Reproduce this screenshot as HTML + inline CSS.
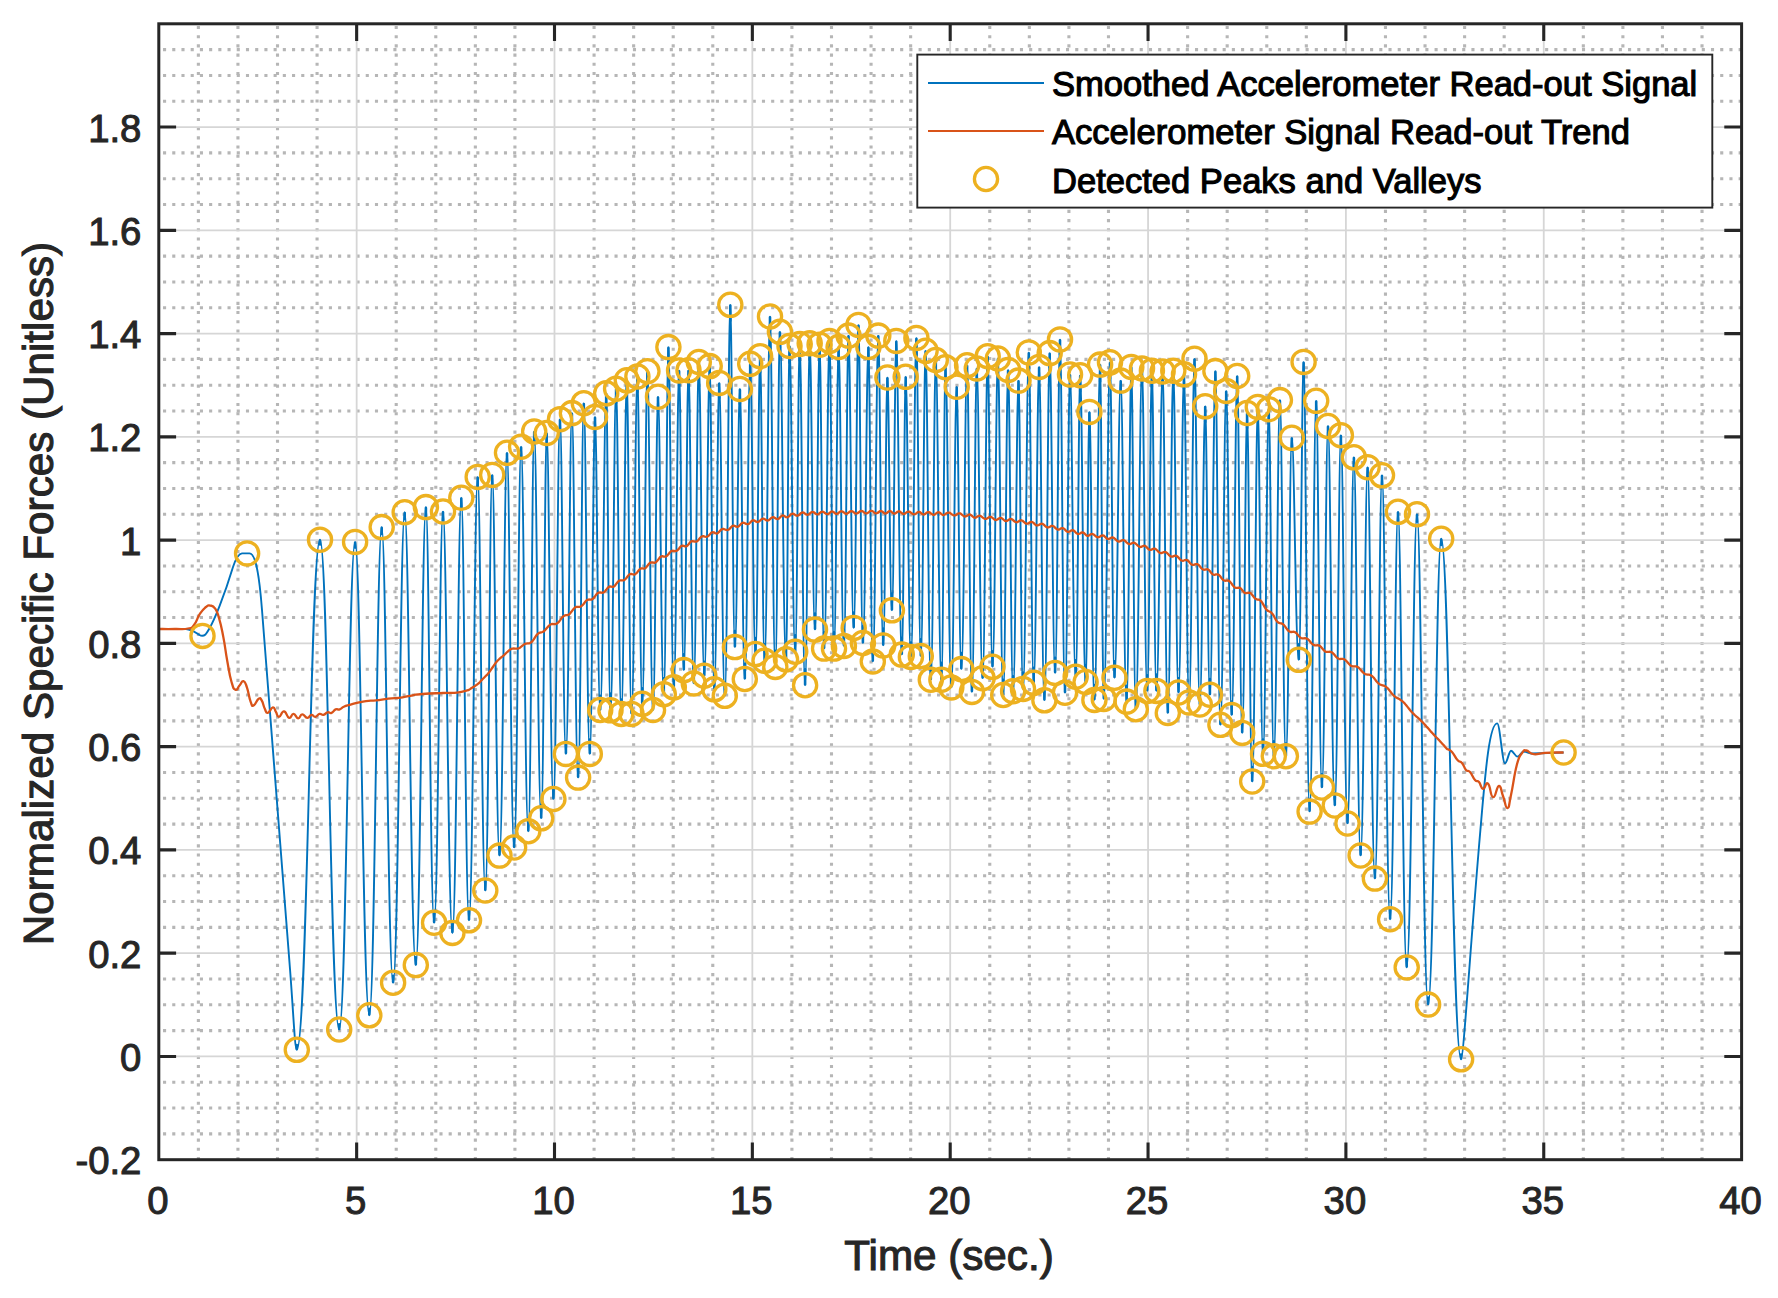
<!DOCTYPE html>
<html><head><meta charset="utf-8"><title>Accelerometer plot</title>
<style>html,body{margin:0;padding:0;background:#fff}svg{display:block}</style></head>
<body>
<svg width="1778" height="1298" viewBox="0 0 1778 1298">
<rect width="1778" height="1298" fill="#fff"/>
<path d="M198.37 25.95V1159.70M237.94 25.95V1159.70M277.51 25.95V1159.70M317.08 25.95V1159.70M396.22 25.95V1159.70M435.79 25.95V1159.70M475.36 25.95V1159.70M514.93 25.95V1159.70M594.07 25.95V1159.70M633.64 25.95V1159.70M673.21 25.95V1159.70M712.78 25.95V1159.70M791.92 25.95V1159.70M831.49 25.95V1159.70M871.06 25.95V1159.70M910.63 25.95V1159.70M989.77 25.95V1159.70M1029.34 25.95V1159.70M1068.91 25.95V1159.70M1108.48 25.95V1159.70M1187.62 25.95V1159.70M1227.19 25.95V1159.70M1266.76 25.95V1159.70M1306.33 25.95V1159.70M1385.47 25.95V1159.70M1425.04 25.95V1159.70M1464.61 25.95V1159.70M1504.18 25.95V1159.70M1583.32 25.95V1159.70M1622.89 25.95V1159.70M1662.46 25.95V1159.70M1702.03 25.95V1159.70" stroke="#b6b6b6" stroke-width="3.1" stroke-dasharray="3.1 6.095" fill="none"/>
<path d="M163.02 1133.88H1741.60M163.02 1108.07H1741.60M163.02 1082.25H1741.60M163.02 1030.62H1741.60M163.02 1004.80H1741.60M163.02 978.99H1741.60M163.02 927.36H1741.60M163.02 901.54H1741.60M163.02 875.73H1741.60M163.02 824.09H1741.60M163.02 798.28H1741.60M163.02 772.46H1741.60M163.02 720.83H1741.60M163.02 695.01H1741.60M163.02 669.20H1741.60M163.02 617.57H1741.60M163.02 591.75H1741.60M163.02 565.93H1741.60M163.02 514.30H1741.60M163.02 488.49H1741.60M163.02 462.67H1741.60M163.02 411.04H1741.60M163.02 385.22H1741.60M163.02 359.41H1741.60M163.02 307.77H1741.60M163.02 281.96H1741.60M163.02 256.14H1741.60M163.02 204.51H1741.60M163.02 178.70H1741.60M163.02 152.88H1741.60M163.02 101.25H1741.60M163.02 75.43H1741.60M163.02 49.62H1741.60" stroke="#b6b6b6" stroke-width="3.1" stroke-dasharray="3.1 6.114" fill="none"/>
<path d="M356.65 23.80V1159.70M554.50 23.80V1159.70M752.35 23.80V1159.70M950.20 23.80V1159.70M1148.05 23.80V1159.70M1345.90 23.80V1159.70M1543.75 23.80V1159.70M158.80 1056.44H1741.60M158.80 953.17H1741.60M158.80 849.91H1741.60M158.80 746.65H1741.60M158.80 643.38H1741.60M158.80 540.12H1741.60M158.80 436.85H1741.60M158.80 333.59H1741.60M158.80 230.33H1741.60M158.80 127.06H1741.60" stroke="#d6d6d6" stroke-width="1.8" fill="none"/>
<path d="M158.8 629 L186 629 C192 629.5 196 633 199.5 635 C201.5 636.2 203.5 636.2 205.5 634.5 C214 624 226 590 233 567 C236 558 239 553.6 242 553.4 L249.5 553.4 C256 553.4 259.5 578 262 610 L290 969 C293.5 1014 294.8 1049.8 296.8 1049.8 C307.47 1049.80 310.26 539.70 320.00 539.70 C328.06 539.70 330.37 1029.50 339.20 1029.50 C346.51 1029.50 348.59 541.90 355.10 541.90 C360.79 541.90 362.77 1015.30 369.30 1015.30 C375.00 1015.30 376.84 527.10 381.70 527.10 C386.11 527.10 387.86 982.70 393.10 982.70 C398.44 982.70 400.20 512.20 404.70 512.20 C408.98 512.20 410.69 965.10 415.80 965.10 C420.45 965.10 422.06 507.10 425.90 507.10 C428.94 507.10 430.36 922.70 434.10 922.70 C438.17 922.70 439.67 511.50 443.00 511.50 C446.54 511.50 448.09 932.90 452.40 932.90 C456.47 932.90 457.97 497.80 461.30 497.80 C464.14 497.80 465.49 920.30 469.00 920.30 C472.98 920.30 474.45 476.90 477.70 476.90 C480.50 476.90 481.84 890.50 485.30 890.50 C488.43 890.50 489.68 474.90 492.20 474.90 C494.88 474.90 496.18 855.60 499.50 855.60 C502.91 855.60 504.24 452.80 507.00 452.80 C509.60 452.80 510.88 847.50 514.10 847.50 C517.28 847.50 518.55 446.70 521.10 446.70 C523.74 446.70 525.03 831.20 528.30 831.20 C530.97 831.20 532.08 431.40 534.20 431.40 C536.75 431.40 538.02 818.30 541.20 818.30 C543.68 818.30 544.73 433.00 546.70 433.00 C549.14 433.00 550.36 799.00 553.40 799.00 C556.39 799.00 557.60 419.20 560.00 419.20 C562.12 419.20 563.23 753.90 565.90 753.90 C568.61 753.90 569.74 413.10 571.90 413.10 C574.14 413.10 575.30 777.60 578.10 777.60 C580.67 777.60 581.76 403.20 583.80 403.20 C585.96 403.20 587.09 753.90 589.80 753.90 C592.14 753.90 593.15 416.90 595.00 416.90 C596.85 416.90 597.86 710.00 600.20 710.00 C602.91 710.00 604.04 393.30 606.20 393.30 C607.71 393.30 608.57 710.30 610.50 710.30 C613.03 710.30 614.10 388.70 616.10 388.70 C617.95 388.70 618.96 713.90 621.30 713.90 C623.78 713.90 624.83 380.30 626.80 380.30 C628.46 380.30 629.39 713.90 631.50 713.90 C634.17 713.90 635.28 376.50 637.40 376.50 C639.10 376.50 640.04 703.80 642.20 703.80 C644.54 703.80 645.55 371.20 647.40 371.20 C649.40 371.20 650.47 710.00 653.00 710.00 C655.25 710.00 656.23 396.70 658.00 396.70 C660.08 396.70 661.18 694.20 663.80 694.20 C665.87 694.20 666.78 347.10 668.40 347.10 C670.33 347.10 671.37 687.30 673.80 687.30 C676.19 687.30 677.21 370.40 679.10 370.40 C680.76 370.40 681.69 670.10 683.80 670.10 C685.91 670.10 686.84 370.20 688.50 370.20 C690.39 370.20 691.41 683.40 693.80 683.40 C696.05 683.40 697.02 362.00 698.80 362.00 C700.77 362.00 701.82 675.70 704.30 675.70 C706.73 675.70 707.77 366.10 709.70 366.10 C711.32 366.10 712.23 689.30 714.30 689.30 C716.50 689.30 717.46 382.90 719.20 382.90 C721.20 382.90 722.27 695.80 724.80 695.80 C727.28 695.80 728.33 304.80 730.30 304.80 C731.92 304.80 732.83 647.10 734.90 647.10 C737.15 647.10 738.12 389.00 739.90 389.00 C741.64 389.00 742.60 679.00 744.80 679.00 C747.23 679.00 748.27 363.80 750.20 363.80 C752.09 363.80 753.11 654.00 755.50 654.00 C757.57 654.00 758.48 356.20 760.10 356.20 C761.69 356.20 762.58 660.80 764.60 660.80 C767.03 660.80 768.07 316.50 770.00 316.50 C771.89 316.50 772.91 666.90 775.30 666.90 C777.37 666.90 778.28 331.80 779.90 331.80 C782.10 331.80 783.24 659.30 786.00 659.30 C787.56 659.30 788.28 346.00 789.50 346.00 C791.54 346.00 792.63 651.70 795.20 651.70 C797.22 651.70 798.11 344.00 799.70 344.00 C801.63 344.00 802.67 685.20 805.10 685.20 C807.17 685.20 808.08 343.20 809.70 343.20 C811.59 343.20 812.61 629.60 815.00 629.60 C817.07 629.60 817.98 344.70 819.60 344.70 C821.19 344.70 822.08 648.60 824.10 648.60 C826.53 648.60 827.57 340.90 829.50 340.90 C831.09 340.90 831.98 648.60 834.00 648.60 C836.07 648.60 836.98 347.00 838.60 347.00 C840.49 347.00 841.51 645.90 843.90 645.90 C845.97 645.90 846.88 335.60 848.50 335.60 C850.35 335.60 851.36 627.90 853.70 627.90 C855.86 627.90 856.80 324.90 858.50 324.90 C860.05 324.90 860.93 643.00 862.90 643.00 C865.38 643.00 866.43 347.00 868.40 347.00 C869.95 347.00 870.83 661.40 872.80 661.40 C875.28 661.40 876.33 335.60 878.30 335.60 C880.04 335.60 881.00 645.40 883.20 645.40 C885.08 645.40 885.93 377.50 887.40 377.50 C888.99 377.50 889.88 610.30 891.90 610.30 C893.87 610.30 894.75 340.90 896.30 340.90 C898.27 340.90 899.32 654.60 901.80 654.60 C903.55 654.60 904.34 376.80 905.70 376.80 C907.55 376.80 908.56 656.90 910.90 656.90 C913.38 656.90 914.43 337.90 916.40 337.90 C917.95 337.90 918.83 656.10 920.80 656.10 C922.96 656.10 923.90 350.80 925.60 350.80 C927.45 350.80 928.46 679.70 930.80 679.70 C933.05 679.70 934.02 360.00 935.80 360.00 C937.80 360.00 938.87 679.70 941.40 679.70 C943.24 679.70 944.06 367.20 945.50 367.20 C947.58 367.20 948.68 687.40 951.30 687.40 C953.73 687.40 954.77 386.70 956.70 386.70 C958.32 386.70 959.23 669.10 961.30 669.10 C963.92 669.10 965.02 365.30 967.10 365.30 C968.80 365.30 969.74 691.90 971.90 691.90 C974.10 691.90 975.06 368.40 976.80 368.40 C978.88 368.40 979.98 678.20 982.60 678.20 C984.90 678.20 985.89 356.20 987.70 356.20 C989.40 356.20 990.34 666.80 992.50 666.80 C994.93 666.80 995.97 358.50 997.90 358.50 C999.79 358.50 1000.81 695.00 1003.20 695.00 C1005.40 695.00 1006.36 369.90 1008.10 369.90 C1009.88 369.90 1010.85 691.20 1013.10 691.20 C1015.53 691.20 1016.57 380.60 1018.50 380.60 C1020.09 380.60 1020.98 688.90 1023.00 688.90 C1025.62 688.90 1026.72 352.40 1028.80 352.40 C1030.54 352.40 1031.50 682.80 1033.70 682.80 C1036.13 682.80 1037.17 366.90 1039.10 366.90 C1040.99 366.90 1042.01 700.30 1044.40 700.30 C1046.79 700.30 1047.81 353.10 1049.70 353.10 C1051.63 353.10 1052.67 672.90 1055.10 672.90 C1057.30 672.90 1058.26 339.40 1060.00 339.40 C1061.78 339.40 1062.75 692.70 1065.00 692.70 C1067.25 692.70 1068.22 374.50 1070.00 374.50 C1072.04 374.50 1073.13 676.70 1075.70 676.70 C1077.72 676.70 1078.61 375.20 1080.20 375.20 C1082.13 375.20 1083.17 682.00 1085.60 682.00 C1087.30 682.00 1088.07 411.90 1089.40 411.90 C1091.18 411.90 1092.15 699.90 1094.40 699.90 C1096.97 699.90 1098.06 364.60 1100.10 364.60 C1101.39 364.60 1102.14 698.90 1103.80 698.90 C1106.60 698.90 1107.76 362.30 1110.00 362.30 C1111.59 362.30 1112.48 677.70 1114.50 677.70 C1117.30 677.70 1118.46 380.60 1120.70 380.60 C1122.82 380.60 1123.93 701.60 1126.60 701.60 C1128.71 701.60 1129.64 366.90 1131.30 366.90 C1132.89 366.90 1133.78 709.20 1135.80 709.20 C1138.60 709.20 1139.76 368.40 1142.00 368.40 C1143.85 368.40 1144.86 690.90 1147.20 690.90 C1149.31 690.90 1150.24 370.70 1151.90 370.70 C1153.49 370.70 1154.38 690.90 1156.40 690.90 C1159.20 690.90 1160.36 371.40 1162.60 371.40 C1164.45 371.40 1165.46 713.00 1167.80 713.00 C1170.28 713.00 1171.33 370.70 1173.30 370.70 C1175.15 370.70 1176.16 692.50 1178.50 692.50 C1180.98 692.50 1182.03 374.30 1184.00 374.30 C1185.81 374.30 1186.80 702.40 1189.10 702.40 C1191.53 702.40 1192.57 358.70 1194.50 358.70 C1196.39 358.70 1197.41 704.50 1199.80 704.50 C1202.23 704.50 1203.27 406.30 1205.20 406.30 C1206.86 406.30 1207.79 694.70 1209.90 694.70 C1212.38 694.70 1213.43 371.10 1215.40 371.10 C1217.18 371.10 1218.15 724.80 1220.40 724.80 C1223.02 724.80 1224.12 390.90 1226.20 390.90 C1228.17 390.90 1229.22 715.10 1231.70 715.10 C1234.18 715.10 1235.23 376.00 1237.20 376.00 C1238.98 376.00 1239.95 732.90 1242.20 732.90 C1244.40 732.90 1245.36 413.00 1247.10 413.00 C1248.91 413.00 1249.90 781.50 1252.20 781.50 C1254.73 781.50 1255.80 406.90 1257.80 406.90 C1259.65 406.90 1260.66 753.80 1263.00 753.80 C1265.62 753.80 1266.72 409.20 1268.80 409.20 C1270.58 409.20 1271.55 756.20 1273.80 756.20 C1276.56 756.20 1277.70 400.10 1279.90 400.10 C1282.06 400.10 1283.19 756.20 1285.90 756.20 C1288.57 756.20 1289.68 437.80 1291.80 437.80 C1294.36 437.80 1295.62 659.80 1298.80 659.80 C1300.96 659.80 1301.90 361.90 1303.60 361.90 C1305.76 361.90 1306.89 811.60 1309.60 811.60 C1312.59 811.60 1313.80 400.80 1316.20 400.80 C1318.24 400.80 1319.33 787.50 1321.90 787.50 C1324.66 787.50 1325.80 426.00 1328.00 426.00 C1330.48 426.00 1331.72 805.50 1334.80 805.50 C1337.56 805.50 1338.70 435.20 1340.90 435.20 C1343.30 435.20 1344.51 823.50 1347.50 823.50 C1350.40 823.50 1351.58 457.30 1353.90 457.30 C1356.34 457.30 1357.56 855.50 1360.60 855.50 C1363.78 855.50 1365.04 467.20 1367.60 467.20 C1370.28 467.20 1371.58 878.60 1374.90 878.60 C1378.12 878.60 1379.40 475.30 1382.00 475.30 C1385.00 475.30 1386.40 919.20 1390.10 919.20 C1393.70 919.20 1395.08 511.80 1398.00 511.80 C1401.25 511.80 1402.72 967.40 1406.70 967.40 C1411.44 967.40 1413.07 514.20 1417.00 514.20 C1421.28 514.20 1422.99 1004.60 1428.10 1004.60 C1434.13 1004.60 1436.02 538.80 1441.20 538.80 C1449.56 538.80 1451.95 1059.30 1461.10 1059.30 C1463.50 1059.00 1470 950 1480.4 830 C1485 777 1489 723.4 1497.2 723.4 C1499.93 723.40 1502.27 763.40 1505.00 763.40 C1507.10 763.40 1508.90 750.80 1511.00 750.80 C1513.28 750.80 1515.22 756.60 1517.50 756.60 C1519.63 756.60 1521.46 751.50 1523.60 751.50 C1526.54 751.50 1529.06 753.50 1532.00 753.50 L1563.6 752.5" stroke="#0072BD" stroke-width="1.9" fill="none" stroke-linejoin="round"/>
<path d="M296.80 1049.00v-4.0M320.00 540.50v4.0M339.20 1028.70v-4.4M355.10 542.70v4.9M369.30 1014.50v-5.6M381.70 527.90v6.1M393.10 981.90v-6.1M404.70 513.00v6.3M415.80 964.30v-6.9M425.90 507.90v8.5M434.10 921.90v-8.5M443.00 512.30v7.9M452.40 932.10v-7.9M461.30 498.60v9.1M469.00 919.50v-9.1M477.70 477.70v9.2M485.30 889.70v-10.1M492.20 475.70v10.1M499.50 854.80v-9.6M507.00 453.60v9.9M514.10 846.70v-10.0M521.10 447.50v10.0M528.30 830.40v-11.9M534.20 432.20v11.9M541.20 817.50v-12.7M546.70 433.80v12.7M553.40 798.20v-10.6M560.00 420.00v11.9M565.90 753.10v-11.9M571.90 413.90v11.7M578.10 776.80v-12.3M583.80 404.00v12.3M589.80 753.10v-13.5M595.00 417.70v13.5M600.20 709.20v-13.5M606.20 394.10v16.0M610.50 709.50v-16.0M616.10 389.50v13.5M621.30 713.10v-13.5M626.80 381.10v14.9M631.50 713.10v-14.9M637.40 377.30v14.6M642.20 703.00v-14.6M647.40 372.00v13.5M653.00 709.20v-14.0M658.00 397.50v14.0M663.80 693.40v-15.2M668.40 347.90v15.2M673.80 686.50v-13.2M679.10 371.20v14.9M683.80 669.30v-14.9M688.50 371.00v14.9M693.80 682.60v-14.0M698.80 362.80v14.0M704.30 674.90v-13.0M709.70 366.90v15.2M714.30 688.50v-15.2M719.20 383.70v14.3M724.80 695.00v-12.7M730.30 305.60v15.2M734.90 646.30v-15.2M739.90 389.80v14.3M744.80 678.20v-14.3M750.20 364.60v13.2M755.50 653.20v-15.2M760.10 357.00v15.6M764.60 660.00v-15.6M770.00 317.30v13.2M775.30 666.10v-15.2M779.90 332.60v15.2M786.00 658.50v-16.0M789.50 346.80v16.0M795.20 650.90v-15.6M799.70 344.80v15.6M805.10 684.40v-15.2M809.70 344.00v15.2M815.00 628.80v-15.2M819.60 345.50v15.6M824.10 647.80v-15.6M829.50 341.70v15.6M834.00 647.80v-15.6M838.60 347.80v15.2M843.90 645.10v-15.2M848.50 336.40v15.2M853.70 627.10v-14.6M858.50 325.70v15.9M862.90 642.20v-15.9M868.40 347.80v15.9M872.80 660.60v-15.9M878.30 336.40v14.3M883.20 644.60v-16.0M887.40 378.30v16.0M891.90 609.50v-15.9M896.30 341.70v15.9M901.80 653.80v-16.0M905.70 377.60v16.0M910.90 656.10v-13.5M916.40 338.70v15.9M920.80 655.30v-15.9M925.60 351.60v14.6M930.80 678.90v-14.0M935.80 360.80v14.0M941.40 678.90v-16.0M945.50 368.00v16.0M951.30 686.60v-13.0M956.70 387.50v15.2M961.30 668.30v-15.2M967.10 366.10v14.6M971.90 691.10v-14.6M976.80 369.20v14.3M982.60 677.40v-13.7M987.70 357.00v14.6M992.50 666.00v-14.6M997.90 359.30v13.2M1003.20 694.20v-14.3M1008.10 370.70v14.3M1013.10 690.40v-14.0M1018.50 381.40v15.6M1023.00 688.10v-15.6M1028.80 353.20v14.3M1033.70 682.00v-14.3M1039.10 367.70v13.2M1044.40 699.50v-13.2M1049.70 353.90v13.2M1055.10 672.10v-14.3M1060.00 340.20v14.3M1065.00 691.90v-14.0M1070.00 375.30v14.0M1075.70 675.90v-15.6M1080.20 376.00v15.6M1085.60 681.20v-16.0M1089.40 412.70v16.0M1094.40 699.10v-14.0M1100.10 365.40v16.0M1103.80 698.10v-16.0M1110.00 363.10v15.6M1114.50 676.90v-15.6M1120.70 381.40v11.9M1126.60 700.80v-14.9M1131.30 367.70v15.6M1135.80 708.40v-15.6M1142.00 369.20v13.5M1147.20 690.10v-14.9M1151.90 371.50v15.6M1156.40 690.10v-15.6M1162.60 372.20v13.5M1167.80 712.20v-13.5M1173.30 371.50v13.5M1178.50 691.70v-13.5M1184.00 375.10v13.7M1189.10 701.60v-13.7M1194.50 359.50v13.2M1199.80 703.70v-13.2M1205.20 407.10v14.9M1209.90 693.90v-14.9M1215.40 371.90v14.0M1220.40 724.00v-14.0M1226.20 391.70v12.7M1231.70 714.30v-12.7M1237.20 376.80v14.0M1242.20 732.10v-14.3M1247.10 413.80v14.3M1252.20 780.70v-13.7M1257.80 407.70v13.5M1263.00 753.00v-13.5M1268.80 410.00v14.0M1273.80 755.40v-14.0M1279.90 400.90v11.7M1285.90 755.40v-11.9M1291.80 438.60v11.9M1298.80 659.00v-14.6M1303.60 362.70v14.6M1309.60 810.80v-11.7M1316.20 401.60v12.3M1321.90 786.70v-12.3M1328.00 426.80v11.5M1334.80 804.70v-11.5M1340.90 436.00v11.5M1347.50 822.70v-10.9M1353.90 458.10v10.9M1360.60 854.70v-10.4M1367.60 468.00v10.0M1374.90 877.80v-9.9M1382.00 476.10v9.9M1390.10 918.40v-8.9M1398.00 512.60v8.9M1406.70 966.60v-8.0M1417.00 515.00v6.8M1428.10 1003.80v-6.3M1441.20 539.60v5.3M1461.10 1058.50v-4.0" stroke="#0072BD" stroke-width="2.6" stroke-linecap="round" fill="none"/>
<path d="M158.5 629.0 C162.9 629.0 167.1 629.1 175.0 629.0 C182.9 628.9 182.9 629.6 188.0 628.5 C193.1 627.4 190.8 628.9 194.0 625.0 C197.2 621.1 196.8 618.5 200.0 613.7 C203.2 608.9 203.3 609.2 206.0 607.0 C208.7 604.8 207.6 605.2 210.1 605.6 C212.6 606.0 212.8 605.1 215.2 608.6 C217.6 612.1 217.0 611.2 219.2 618.7 C221.4 626.2 221.1 625.6 223.3 636.9 C225.5 648.2 225.1 649.3 227.3 661.2 C229.5 673.1 229.2 673.9 231.4 681.5 C233.6 689.1 233.2 688.5 235.4 689.6 C237.6 690.7 237.3 687.8 239.5 685.5 C241.7 683.2 241.5 680.5 243.5 681.1 C245.5 681.7 245.1 682.1 247.0 687.6 C248.9 693.1 248.8 697.0 250.6 701.7 C252.4 706.4 251.5 706.2 253.7 705.4 C255.9 704.6 256.5 700.0 258.7 698.7 C260.9 697.4 260.2 698.0 261.8 700.7 C263.4 703.4 263.2 705.5 264.8 708.8 C266.4 712.1 265.6 713.3 267.8 712.9 C270.0 712.5 270.7 707.7 272.9 707.4 C275.1 707.1 274.3 709.4 275.9 711.9 C277.5 714.4 276.8 717.0 279.0 716.9 C281.2 716.8 281.3 711.1 284.0 711.4 C286.7 711.7 286.6 717.2 289.1 717.9 C291.6 718.6 291.1 713.8 293.5 713.9 C295.9 714.0 295.9 718.2 298.2 718.3 C300.5 718.4 299.8 714.4 302.2 714.3 C304.6 714.2 304.8 717.7 307.3 717.9 C309.8 718.1 309.2 715.2 311.4 714.9 C313.6 714.6 313.2 717.2 315.4 716.9 C317.6 716.6 317.3 714.4 319.5 713.9 C321.7 713.4 321.3 715.3 323.5 714.9 C325.7 714.5 325.4 712.8 327.6 712.3 C329.8 711.8 329.4 713.7 331.6 712.9 C333.8 712.1 333.5 710.3 335.7 709.4 C337.9 708.5 337.5 710.1 339.7 709.4 C341.9 708.7 341.1 708.0 343.8 706.8 C346.5 705.6 346.0 705.9 349.8 704.8 C353.6 703.7 353.6 703.7 357.9 702.7 C362.2 701.7 361.1 701.7 366.0 701.1 C370.9 700.5 370.2 700.9 376.1 700.3 C382.0 699.7 381.3 699.5 388.3 698.7 C395.3 697.9 396.0 698.2 402.5 697.3 C409.0 696.4 407.2 696.2 412.6 695.3 C418.0 694.4 414.6 694.6 422.7 694.0 C430.8 693.4 433.8 693.4 443.0 693.0 C452.2 692.6 450.4 693.3 457.1 692.6 C463.8 691.9 465.3 690.8 468.3 690.2 L470.0 689.11 L471.2 688.30 L472.5 687.52 L473.8 686.74 L475.0 685.94 L476.2 685.10 L477.5 684.20 L478.8 683.23 L480.0 682.01 L481.2 680.59 L482.5 679.24 L483.8 677.96 L485.0 676.74 L486.2 675.55 L487.5 674.33 L488.8 672.81 L490.0 671.18 L491.2 669.40 L492.5 667.53 L493.8 665.63 L495.0 663.81 L496.2 662.16 L497.5 660.71 L498.8 659.47 L500.0 658.37 L501.2 657.36 L502.5 656.34 L503.8 655.27 L505.0 654.20 L506.2 653.03 L507.5 651.79 L508.8 650.61 L510.0 649.63 L511.2 648.91 L512.5 648.53 L513.8 648.46 L515.0 648.59 L516.2 648.71 L517.5 648.65 L518.8 648.30 L520.0 647.66 L521.2 646.69 L522.5 645.59 L523.8 644.62 L525.0 643.92 L526.2 643.56 L527.5 643.44 L528.8 643.36 L530.0 643.07 L531.2 642.32 L532.5 641.08 L533.8 639.41 L535.0 637.48 L536.2 635.62 L537.5 634.13 L538.8 633.16 L540.0 632.67 L541.2 632.35 L542.5 632.01 L543.8 631.35 L545.0 630.25 L546.2 628.79 L547.5 627.22 L548.8 625.84 L550.0 624.77 L551.2 624.18 L552.5 624.00 L553.8 624.05 L555.0 624.08 L556.2 623.83 L557.5 623.13 L558.8 621.98 L560.0 620.41 L561.2 618.63 L562.5 617.04 L563.8 615.94 L565.0 615.40 L566.2 615.23 L567.5 615.07 L568.8 614.59 L570.0 613.56 L571.2 612.04 L572.5 610.32 L573.8 608.73 L575.0 607.50 L576.2 606.90 L577.5 606.78 L578.8 606.85 L580.0 606.81 L581.2 606.28 L582.5 605.22 L583.8 603.74 L585.0 602.06 L586.2 600.62 L587.5 599.79 L588.8 599.51 L590.0 599.62 L591.2 599.59 L592.5 599.08 L593.8 597.97 L595.0 596.31 L596.2 594.60 L597.5 593.26 L598.8 592.53 L600.0 592.42 L601.2 592.63 L602.5 592.73 L603.8 592.34 L605.0 591.32 L606.2 589.83 L607.5 588.13 L608.8 586.90 L610.0 586.41 L611.2 586.57 L612.5 586.83 L613.8 586.58 L615.0 585.54 L616.2 583.88 L617.5 582.20 L618.8 580.93 L620.0 580.32 L621.2 580.30 L622.5 580.47 L623.8 580.38 L625.0 579.61 L626.2 578.18 L627.5 576.47 L628.8 574.93 L630.0 574.06 L631.2 573.92 L632.5 574.26 L633.8 574.58 L635.0 574.35 L636.2 573.45 L637.5 571.91 L638.8 570.19 L640.0 568.94 L641.2 568.37 L642.5 568.46 L643.8 568.64 L645.0 568.33 L646.2 567.31 L647.5 565.69 L648.8 564.08 L650.0 562.87 L651.2 562.36 L652.5 562.48 L653.8 562.74 L655.0 562.73 L656.2 562.01 L657.5 560.59 L658.8 558.85 L660.0 557.29 L661.2 556.41 L662.5 556.25 L663.8 556.52 L665.0 556.74 L666.2 556.40 L667.5 555.35 L668.8 553.81 L670.0 552.26 L671.2 551.18 L672.5 550.76 L673.8 550.87 L675.0 551.11 L676.2 551.00 L677.5 550.26 L678.8 548.92 L680.0 547.27 L681.2 545.97 L682.5 545.53 L683.8 545.91 L685.0 546.44 L686.2 546.46 L687.5 545.58 L688.8 543.99 L690.0 542.43 L691.2 541.37 L692.5 541.04 L693.8 541.35 L695.0 541.72 L696.2 541.68 L697.5 540.93 L698.8 539.53 L700.0 538.02 L701.2 536.82 L702.5 536.22 L703.8 536.27 L705.0 536.59 L706.2 536.79 L707.5 536.50 L708.8 535.57 L710.0 534.22 L711.2 532.84 L712.5 532.14 L713.8 532.32 L715.0 533.02 L716.2 533.55 L717.5 533.32 L718.8 532.24 L720.0 530.84 L721.2 529.63 L722.5 528.99 L723.8 528.99 L725.0 529.45 L726.2 529.97 L727.5 530.06 L728.8 529.54 L730.0 528.46 L731.2 527.02 L732.5 525.92 L733.8 525.61 L735.0 526.04 L736.2 526.69 L737.5 526.89 L738.8 526.28 L740.0 525.00 L741.2 523.68 L742.5 522.83 L743.8 522.73 L745.0 523.25 L746.2 523.93 L747.5 524.24 L748.8 523.83 L750.0 522.76 L751.2 521.44 L752.5 520.48 L753.8 520.32 L755.0 520.87 L756.2 521.67 L757.5 522.08 L758.8 521.73 L760.0 520.69 L761.2 519.47 L762.5 518.66 L763.8 518.66 L765.0 519.34 L766.2 520.19 L767.5 520.61 L768.8 520.23 L770.0 519.18 L771.2 517.97 L772.5 517.22 L773.8 517.25 L775.0 517.94 L776.2 518.74 L777.5 519.07 L778.8 518.59 L780.0 517.46 L781.2 516.21 L782.5 515.51 L783.8 515.65 L785.0 516.42 L786.2 517.17 L787.5 517.30 L788.8 516.57 L790.0 515.32 L791.2 514.22 L792.5 513.71 L793.8 513.97 L795.0 514.75 L796.2 515.49 L797.5 515.68 L798.8 515.12 L800.0 514.03 L801.2 512.95 L802.5 512.44 L803.8 512.72 L805.0 513.58 L806.2 514.45 L807.5 514.78 L808.8 514.32 L810.0 513.31 L811.2 512.32 L812.5 511.90 L813.8 512.28 L815.0 513.22 L816.2 514.14 L817.5 514.46 L818.8 513.97 L820.0 512.95 L821.2 511.99 L822.5 511.63 L823.8 512.08 L825.0 513.04 L826.2 513.93 L827.5 514.19 L828.8 513.65 L830.0 512.58 L831.2 511.61 L832.5 511.45 L833.8 512.19 L835.0 513.29 L836.2 513.97 L837.5 513.73 L838.8 512.74 L840.0 511.72 L841.2 511.22 L842.5 511.53 L843.8 512.44 L845.0 513.41 L846.2 513.83 L847.5 513.45 L848.8 512.48 L850.0 511.49 L851.2 511.05 L852.5 511.39 L853.8 512.31 L855.0 513.25 L856.2 513.65 L857.5 513.26 L858.8 512.29 L860.0 511.29 L861.2 510.85 L862.5 511.22 L863.8 512.16 L865.0 513.11 L866.2 513.48 L867.5 513.05 L868.8 512.07 L870.0 511.11 L871.2 510.76 L872.5 511.20 L873.8 512.19 L875.0 513.13 L876.2 513.46 L877.5 513.00 L878.8 511.98 L880.0 511.03 L881.2 510.88 L882.5 511.64 L883.8 512.79 L885.0 513.54 L886.2 513.39 L887.5 512.45 L888.8 511.38 L890.0 511.00 L891.2 511.59 L892.5 512.76 L893.8 513.66 L895.0 513.67 L896.2 512.79 L897.5 511.75 L898.8 511.22 L900.0 511.58 L901.2 512.61 L902.5 513.66 L903.8 514.06 L905.0 513.58 L906.2 512.62 L907.5 511.81 L908.8 511.54 L910.0 511.95 L911.2 512.87 L912.5 513.83 L913.8 514.37 L915.0 514.22 L916.2 513.48 L917.5 512.42 L918.8 511.84 L920.0 512.17 L921.2 513.21 L922.5 514.26 L923.8 514.63 L925.0 514.07 L926.2 513.05 L927.5 512.24 L928.8 512.05 L930.0 512.62 L931.2 513.63 L932.5 514.52 L933.8 514.81 L935.0 514.35 L936.2 513.39 L937.5 512.48 L938.8 512.25 L940.0 512.84 L941.2 513.92 L942.5 514.83 L943.8 515.03 L945.0 514.42 L946.2 513.49 L947.5 512.75 L948.8 512.53 L950.0 512.95 L951.2 513.84 L952.5 514.81 L953.8 515.42 L955.0 515.44 L956.2 514.88 L957.5 514.02 L958.8 513.35 L960.0 513.32 L961.2 514.03 L962.5 515.14 L963.8 516.13 L965.0 516.54 L966.2 516.23 L967.5 515.42 L968.8 514.63 L970.0 514.50 L971.2 515.20 L972.5 516.40 L973.8 517.46 L975.0 517.82 L976.2 517.36 L977.5 516.52 L978.8 515.87 L980.0 515.75 L981.2 516.29 L982.5 517.30 L983.8 518.33 L985.0 518.94 L986.2 518.89 L987.5 518.26 L988.8 517.38 L990.0 516.83 L991.2 517.00 L992.5 517.86 L993.8 519.00 L995.0 519.85 L996.2 520.00 L997.5 519.43 L998.8 518.55 L1000.0 517.92 L1001.2 517.97 L1002.5 518.75 L1003.8 519.89 L1005.0 520.82 L1006.2 521.10 L1007.5 520.64 L1008.8 519.79 L1010.0 519.10 L1011.2 519.01 L1012.5 519.65 L1013.8 520.75 L1015.0 521.79 L1016.2 522.29 L1017.5 522.07 L1018.8 521.32 L1020.0 520.54 L1021.2 520.27 L1022.5 520.74 L1023.8 521.80 L1025.0 522.96 L1026.2 523.68 L1027.5 523.67 L1028.8 523.04 L1030.0 522.25 L1031.2 521.85 L1032.5 522.18 L1033.8 523.17 L1035.0 524.38 L1036.2 525.28 L1037.5 525.47 L1038.8 524.98 L1040.0 524.23 L1041.2 523.72 L1042.5 523.85 L1043.8 524.66 L1045.0 525.86 L1046.2 526.95 L1047.5 527.48 L1048.8 527.31 L1050.0 526.65 L1051.2 525.98 L1052.5 525.82 L1053.8 526.42 L1055.0 527.58 L1056.2 528.82 L1057.5 529.60 L1058.8 529.64 L1060.0 529.07 L1061.2 528.33 L1062.5 528.03 L1063.8 528.52 L1065.0 529.65 L1066.2 530.94 L1067.5 531.77 L1068.8 531.83 L1070.0 531.24 L1071.2 530.51 L1072.5 530.21 L1073.8 530.64 L1075.0 531.72 L1076.2 533.00 L1077.5 533.89 L1078.8 534.05 L1080.0 533.54 L1081.2 532.71 L1082.5 532.31 L1083.8 532.83 L1085.0 534.05 L1086.2 535.32 L1087.5 535.91 L1088.8 535.57 L1090.0 534.75 L1091.2 534.10 L1092.5 533.98 L1093.8 534.55 L1095.0 535.59 L1096.2 536.66 L1097.5 537.27 L1098.8 537.20 L1100.0 536.57 L1101.2 535.73 L1102.5 535.30 L1103.8 535.69 L1105.0 536.79 L1106.2 538.07 L1107.5 538.93 L1108.8 538.99 L1110.0 538.40 L1111.2 537.73 L1112.5 537.42 L1113.8 537.79 L1115.0 538.79 L1116.2 540.06 L1117.5 541.12 L1118.8 541.56 L1120.0 541.34 L1121.2 540.72 L1122.5 540.17 L1123.8 540.17 L1125.0 540.86 L1126.2 542.04 L1127.5 543.24 L1128.8 544.01 L1130.0 544.07 L1131.2 543.57 L1132.5 542.93 L1133.8 542.64 L1135.0 543.02 L1136.2 544.05 L1137.5 545.36 L1138.8 546.48 L1140.0 547.00 L1141.2 546.85 L1142.5 546.26 L1143.8 545.72 L1145.0 545.83 L1146.2 546.74 L1147.5 548.12 L1148.8 549.37 L1150.0 549.96 L1151.2 549.76 L1152.5 549.14 L1153.8 548.67 L1155.0 548.75 L1156.2 549.52 L1157.5 550.78 L1158.8 552.08 L1160.0 552.94 L1161.2 553.11 L1162.5 552.72 L1163.8 552.16 L1165.0 551.94 L1166.2 552.37 L1167.5 553.44 L1168.8 554.83 L1170.0 556.03 L1171.2 556.64 L1172.5 556.58 L1173.8 556.10 L1175.0 555.69 L1176.2 555.78 L1177.5 556.58 L1178.8 557.92 L1180.0 559.35 L1181.2 560.39 L1182.5 560.76 L1183.8 560.52 L1185.0 560.05 L1186.2 559.85 L1187.5 560.32 L1188.8 561.46 L1190.0 562.93 L1191.2 564.21 L1192.5 564.88 L1193.8 564.84 L1195.0 564.37 L1196.2 564.02 L1197.5 564.20 L1198.8 565.10 L1200.0 566.55 L1201.2 568.08 L1202.5 569.24 L1203.8 569.74 L1205.0 569.64 L1206.2 569.29 L1207.5 569.23 L1208.8 569.91 L1210.0 571.26 L1211.2 572.88 L1212.5 574.22 L1213.8 574.83 L1215.0 574.73 L1216.2 574.42 L1217.5 574.33 L1218.8 574.85 L1220.0 576.05 L1221.2 577.66 L1222.5 579.26 L1223.8 580.35 L1225.0 580.77 L1226.2 580.67 L1227.5 580.51 L1228.8 580.75 L1230.0 581.66 L1231.2 583.15 L1232.5 584.96 L1233.8 586.54 L1235.0 587.57 L1236.2 587.94 L1237.5 587.80 L1238.8 587.55 L1240.0 587.79 L1241.2 588.87 L1242.5 590.48 L1243.8 592.03 L1245.0 593.00 L1246.2 593.14 L1247.5 592.78 L1248.8 592.53 L1250.0 592.76 L1251.2 593.73 L1252.5 595.27 L1253.8 596.99 L1255.0 598.42 L1256.2 599.24 L1257.5 599.54 L1258.8 599.68 L1260.0 600.14 L1261.2 601.28 L1262.5 603.11 L1263.8 605.37 L1265.0 607.62 L1266.2 609.44 L1267.5 610.60 L1268.8 611.25 L1270.0 611.78 L1271.2 612.58 L1272.5 613.99 L1273.8 615.97 L1275.0 618.25 L1276.2 620.36 L1277.5 621.93 L1278.8 622.82 L1280.0 623.17 L1281.2 623.44 L1282.5 623.94 L1283.8 624.91 L1285.0 626.38 L1286.2 628.13 L1287.5 629.82 L1288.8 631.12 L1290.0 631.82 L1291.2 631.99 L1292.5 631.84 L1293.8 631.77 L1295.0 632.11 L1296.2 633.02 L1297.5 634.41 L1298.8 635.97 L1300.0 637.32 L1301.2 638.18 L1302.5 638.47 L1303.8 638.36 L1305.0 638.24 L1306.2 638.37 L1307.5 638.96 L1308.8 640.06 L1310.0 641.50 L1311.2 643.02 L1312.5 644.30 L1313.8 645.13 L1315.0 645.46 L1316.2 645.42 L1317.5 645.25 L1318.8 645.36 L1320.0 645.99 L1321.2 647.17 L1322.5 648.70 L1323.8 650.20 L1325.0 651.34 L1326.2 651.92 L1327.5 651.97 L1328.8 651.82 L1330.0 651.77 L1331.2 652.08 L1332.5 652.86 L1333.8 654.09 L1335.0 655.56 L1336.2 657.00 L1337.5 658.13 L1338.8 658.80 L1340.0 659.02 L1341.2 658.95 L1342.5 658.88 L1343.8 659.08 L1345.0 659.73 L1346.2 660.84 L1347.5 662.28 L1348.8 663.79 L1350.0 665.08 L1351.2 665.96 L1352.5 666.36 L1353.8 666.40 L1355.0 666.35 L1356.2 666.44 L1357.5 666.86 L1358.8 667.71 L1360.0 668.95 L1361.2 670.44 L1362.5 671.91 L1363.8 673.16 L1365.0 674.02 L1366.2 674.47 L1367.5 674.62 L1368.8 674.72 L1370.0 674.95 L1371.2 675.51 L1372.5 676.46 L1373.8 677.79 L1375.0 679.37 L1376.2 681.01 L1377.5 682.50 L1378.8 683.68 L1380.0 684.48 L1381.2 684.96 L1382.5 685.29 L1383.8 685.66 L1385.0 686.19 L1386.2 687.01 L1387.5 688.15 L1388.8 689.56 L1390.0 691.15 L1391.2 692.76 L1392.5 694.27 L1393.8 695.58 L1395.0 696.63 L1396.2 697.45 L1397.5 698.11 L1398.8 698.76 L1400.0 699.49 L1401.2 700.33 L1402.5 701.34 L1403.8 702.51 L1405.0 703.86 L1406.2 705.33 L1407.5 706.88 L1408.8 708.47 L1410.0 710.01 L1411.2 711.47 L1412.5 712.83 L1413.8 714.08 L1415.0 715.23 L1416.2 716.32 L1417.5 717.39 L1418.8 718.52 L1420.0 719.67 L1421.2 720.88 L1422.5 722.13 L1423.8 723.44 L1425.0 724.80 L1426.2 726.20 L1427.5 727.63 L1428.8 729.06 L1430.0 730.49 L1431.2 731.90 L1432.5 733.28 L1433.8 734.63 L1435.0 735.95 L1436.2 737.24 L1437.5 738.52 L1438.8 739.85 L1440.0 741.19 L1441.2 742.54 L1442.5 743.92 L1443.8 745.32 L1445.0 746.76 L1447.0 749.0 C1448.3 749.8 1449.2 749.1 1452.0 752.0 C1454.8 754.9 1454.8 757.1 1457.5 760.0 C1460.2 762.9 1459.7 760.3 1462.0 763.0 C1464.3 765.7 1463.9 767.6 1466.0 770.0 C1468.1 772.4 1467.6 769.3 1470.0 772.0 C1472.4 774.7 1472.6 777.3 1475.0 780.0 C1477.4 782.7 1476.9 779.7 1479.0 782.0 C1481.1 784.3 1480.6 788.3 1483.0 788.8 C1485.4 789.3 1485.3 781.5 1488.0 783.7 C1490.7 785.9 1490.2 796.6 1493.1 797.2 C1496.0 797.8 1496.3 786.3 1498.9 786.0 C1501.5 785.7 1500.7 790.1 1503.0 796.0 C1505.3 801.9 1505.3 808.3 1507.4 808.0 C1509.5 807.7 1508.5 806.5 1511.0 795.0 C1513.5 783.5 1513.9 776.1 1516.8 765.0 C1519.7 753.9 1519.5 757.1 1522.0 753.2 C1524.5 749.3 1523.2 750.2 1526.3 750.5 C1529.4 750.8 1528.8 753.6 1533.8 754.2 C1538.8 754.8 1537.1 753.3 1545.0 752.8 C1552.9 752.3 1558.6 752.6 1563.6 752.5" stroke="#D95319" stroke-width="2.3" fill="none" stroke-linejoin="round"/>
<g fill="none" stroke="#EDB120" stroke-width="3.3">
<circle cx="202.5" cy="635.9" r="11.6"/>
<circle cx="247.1" cy="553.4" r="11.6"/>
<circle cx="320.0" cy="539.7" r="11.6"/>
<circle cx="355.1" cy="541.9" r="11.6"/>
<circle cx="381.7" cy="527.1" r="11.6"/>
<circle cx="404.7" cy="512.2" r="11.6"/>
<circle cx="425.9" cy="507.1" r="11.6"/>
<circle cx="443.0" cy="511.5" r="11.6"/>
<circle cx="461.3" cy="497.8" r="11.6"/>
<circle cx="477.7" cy="476.9" r="11.6"/>
<circle cx="492.2" cy="474.9" r="11.6"/>
<circle cx="507.0" cy="452.8" r="11.6"/>
<circle cx="521.1" cy="446.7" r="11.6"/>
<circle cx="534.2" cy="431.4" r="11.6"/>
<circle cx="546.7" cy="433.0" r="11.6"/>
<circle cx="560.0" cy="419.2" r="11.6"/>
<circle cx="571.9" cy="413.1" r="11.6"/>
<circle cx="583.8" cy="403.2" r="11.6"/>
<circle cx="595.0" cy="416.9" r="11.6"/>
<circle cx="606.2" cy="393.3" r="11.6"/>
<circle cx="616.1" cy="388.7" r="11.6"/>
<circle cx="626.8" cy="380.3" r="11.6"/>
<circle cx="637.4" cy="376.5" r="11.6"/>
<circle cx="647.4" cy="371.2" r="11.6"/>
<circle cx="658.0" cy="396.7" r="11.6"/>
<circle cx="668.4" cy="347.1" r="11.6"/>
<circle cx="679.1" cy="370.4" r="11.6"/>
<circle cx="688.5" cy="370.2" r="11.6"/>
<circle cx="698.8" cy="362.0" r="11.6"/>
<circle cx="709.7" cy="366.1" r="11.6"/>
<circle cx="719.2" cy="382.9" r="11.6"/>
<circle cx="730.3" cy="304.8" r="11.6"/>
<circle cx="739.9" cy="389.0" r="11.6"/>
<circle cx="750.2" cy="363.8" r="11.6"/>
<circle cx="760.1" cy="356.2" r="11.6"/>
<circle cx="770.0" cy="316.5" r="11.6"/>
<circle cx="779.9" cy="331.8" r="11.6"/>
<circle cx="789.5" cy="346.0" r="11.6"/>
<circle cx="799.7" cy="344.0" r="11.6"/>
<circle cx="809.7" cy="343.2" r="11.6"/>
<circle cx="819.6" cy="344.7" r="11.6"/>
<circle cx="829.5" cy="340.9" r="11.6"/>
<circle cx="838.6" cy="347.0" r="11.6"/>
<circle cx="848.5" cy="335.6" r="11.6"/>
<circle cx="858.5" cy="324.9" r="11.6"/>
<circle cx="868.4" cy="347.0" r="11.6"/>
<circle cx="878.3" cy="335.6" r="11.6"/>
<circle cx="887.4" cy="377.5" r="11.6"/>
<circle cx="896.3" cy="340.9" r="11.6"/>
<circle cx="905.7" cy="376.8" r="11.6"/>
<circle cx="916.4" cy="337.9" r="11.6"/>
<circle cx="925.6" cy="350.8" r="11.6"/>
<circle cx="935.8" cy="360.0" r="11.6"/>
<circle cx="945.5" cy="367.2" r="11.6"/>
<circle cx="956.7" cy="386.7" r="11.6"/>
<circle cx="967.1" cy="365.3" r="11.6"/>
<circle cx="976.8" cy="368.4" r="11.6"/>
<circle cx="987.7" cy="356.2" r="11.6"/>
<circle cx="997.9" cy="358.5" r="11.6"/>
<circle cx="1008.1" cy="369.9" r="11.6"/>
<circle cx="1018.5" cy="380.6" r="11.6"/>
<circle cx="1028.8" cy="352.4" r="11.6"/>
<circle cx="1039.1" cy="366.9" r="11.6"/>
<circle cx="1049.7" cy="353.1" r="11.6"/>
<circle cx="1060.0" cy="339.4" r="11.6"/>
<circle cx="1070.0" cy="374.5" r="11.6"/>
<circle cx="1080.2" cy="375.2" r="11.6"/>
<circle cx="1089.4" cy="411.9" r="11.6"/>
<circle cx="1100.1" cy="364.6" r="11.6"/>
<circle cx="1110.0" cy="362.3" r="11.6"/>
<circle cx="1120.7" cy="380.6" r="11.6"/>
<circle cx="1131.3" cy="366.9" r="11.6"/>
<circle cx="1142.0" cy="368.4" r="11.6"/>
<circle cx="1151.9" cy="370.7" r="11.6"/>
<circle cx="1162.6" cy="371.4" r="11.6"/>
<circle cx="1173.3" cy="370.7" r="11.6"/>
<circle cx="1184.0" cy="374.3" r="11.6"/>
<circle cx="1194.5" cy="358.7" r="11.6"/>
<circle cx="1205.2" cy="406.3" r="11.6"/>
<circle cx="1215.4" cy="371.1" r="11.6"/>
<circle cx="1226.2" cy="390.9" r="11.6"/>
<circle cx="1237.2" cy="376.0" r="11.6"/>
<circle cx="1247.1" cy="413.0" r="11.6"/>
<circle cx="1257.8" cy="406.9" r="11.6"/>
<circle cx="1268.8" cy="409.2" r="11.6"/>
<circle cx="1279.9" cy="400.1" r="11.6"/>
<circle cx="1291.8" cy="437.8" r="11.6"/>
<circle cx="1303.6" cy="361.9" r="11.6"/>
<circle cx="1316.2" cy="400.8" r="11.6"/>
<circle cx="1328.0" cy="426.0" r="11.6"/>
<circle cx="1340.9" cy="435.2" r="11.6"/>
<circle cx="1353.9" cy="457.3" r="11.6"/>
<circle cx="1367.6" cy="467.2" r="11.6"/>
<circle cx="1382.0" cy="475.3" r="11.6"/>
<circle cx="1398.0" cy="511.8" r="11.6"/>
<circle cx="1417.0" cy="514.2" r="11.6"/>
<circle cx="1441.2" cy="538.8" r="11.6"/>
<circle cx="296.8" cy="1049.8" r="11.6"/>
<circle cx="339.2" cy="1029.5" r="11.6"/>
<circle cx="369.3" cy="1015.3" r="11.6"/>
<circle cx="393.1" cy="982.7" r="11.6"/>
<circle cx="415.8" cy="965.1" r="11.6"/>
<circle cx="434.1" cy="922.7" r="11.6"/>
<circle cx="452.4" cy="932.9" r="11.6"/>
<circle cx="469.0" cy="920.3" r="11.6"/>
<circle cx="485.3" cy="890.5" r="11.6"/>
<circle cx="499.5" cy="855.6" r="11.6"/>
<circle cx="514.1" cy="847.5" r="11.6"/>
<circle cx="528.3" cy="831.2" r="11.6"/>
<circle cx="541.2" cy="818.3" r="11.6"/>
<circle cx="553.4" cy="799.0" r="11.6"/>
<circle cx="565.9" cy="753.9" r="11.6"/>
<circle cx="578.1" cy="777.6" r="11.6"/>
<circle cx="589.8" cy="753.9" r="11.6"/>
<circle cx="600.2" cy="710.0" r="11.6"/>
<circle cx="610.5" cy="710.3" r="11.6"/>
<circle cx="621.3" cy="713.9" r="11.6"/>
<circle cx="631.5" cy="713.9" r="11.6"/>
<circle cx="642.2" cy="703.8" r="11.6"/>
<circle cx="653.0" cy="710.0" r="11.6"/>
<circle cx="663.8" cy="694.2" r="11.6"/>
<circle cx="673.8" cy="687.3" r="11.6"/>
<circle cx="683.8" cy="670.1" r="11.6"/>
<circle cx="693.8" cy="683.4" r="11.6"/>
<circle cx="704.3" cy="675.7" r="11.6"/>
<circle cx="714.3" cy="689.3" r="11.6"/>
<circle cx="724.8" cy="695.8" r="11.6"/>
<circle cx="734.9" cy="647.1" r="11.6"/>
<circle cx="744.8" cy="679.0" r="11.6"/>
<circle cx="755.5" cy="654.0" r="11.6"/>
<circle cx="764.6" cy="660.8" r="11.6"/>
<circle cx="775.3" cy="666.9" r="11.6"/>
<circle cx="786.0" cy="659.3" r="11.6"/>
<circle cx="795.2" cy="651.7" r="11.6"/>
<circle cx="805.1" cy="685.2" r="11.6"/>
<circle cx="815.0" cy="629.6" r="11.6"/>
<circle cx="824.1" cy="648.6" r="11.6"/>
<circle cx="834.0" cy="648.6" r="11.6"/>
<circle cx="843.9" cy="645.9" r="11.6"/>
<circle cx="853.7" cy="627.9" r="11.6"/>
<circle cx="862.9" cy="643.0" r="11.6"/>
<circle cx="872.8" cy="661.4" r="11.6"/>
<circle cx="883.2" cy="645.4" r="11.6"/>
<circle cx="891.9" cy="610.3" r="11.6"/>
<circle cx="901.8" cy="654.6" r="11.6"/>
<circle cx="910.9" cy="656.9" r="11.6"/>
<circle cx="920.8" cy="656.1" r="11.6"/>
<circle cx="930.8" cy="679.7" r="11.6"/>
<circle cx="941.4" cy="679.7" r="11.6"/>
<circle cx="951.3" cy="687.4" r="11.6"/>
<circle cx="961.3" cy="669.1" r="11.6"/>
<circle cx="971.9" cy="691.9" r="11.6"/>
<circle cx="982.6" cy="678.2" r="11.6"/>
<circle cx="992.5" cy="666.8" r="11.6"/>
<circle cx="1003.2" cy="695.0" r="11.6"/>
<circle cx="1013.1" cy="691.2" r="11.6"/>
<circle cx="1023.0" cy="688.9" r="11.6"/>
<circle cx="1033.7" cy="682.8" r="11.6"/>
<circle cx="1044.4" cy="700.3" r="11.6"/>
<circle cx="1055.1" cy="672.9" r="11.6"/>
<circle cx="1065.0" cy="692.7" r="11.6"/>
<circle cx="1075.7" cy="676.7" r="11.6"/>
<circle cx="1085.6" cy="682.0" r="11.6"/>
<circle cx="1094.4" cy="699.9" r="11.6"/>
<circle cx="1103.8" cy="698.9" r="11.6"/>
<circle cx="1114.5" cy="677.7" r="11.6"/>
<circle cx="1126.6" cy="701.6" r="11.6"/>
<circle cx="1135.8" cy="709.2" r="11.6"/>
<circle cx="1147.2" cy="690.9" r="11.6"/>
<circle cx="1156.4" cy="690.9" r="11.6"/>
<circle cx="1167.8" cy="713.0" r="11.6"/>
<circle cx="1178.5" cy="692.5" r="11.6"/>
<circle cx="1189.1" cy="702.4" r="11.6"/>
<circle cx="1199.8" cy="704.5" r="11.6"/>
<circle cx="1209.9" cy="694.7" r="11.6"/>
<circle cx="1220.4" cy="724.8" r="11.6"/>
<circle cx="1231.7" cy="715.1" r="11.6"/>
<circle cx="1242.2" cy="732.9" r="11.6"/>
<circle cx="1252.2" cy="781.5" r="11.6"/>
<circle cx="1263.0" cy="753.8" r="11.6"/>
<circle cx="1273.8" cy="756.2" r="11.6"/>
<circle cx="1285.9" cy="756.2" r="11.6"/>
<circle cx="1298.8" cy="659.8" r="11.6"/>
<circle cx="1309.6" cy="811.6" r="11.6"/>
<circle cx="1321.9" cy="787.5" r="11.6"/>
<circle cx="1334.8" cy="805.5" r="11.6"/>
<circle cx="1347.5" cy="823.5" r="11.6"/>
<circle cx="1360.6" cy="855.5" r="11.6"/>
<circle cx="1374.9" cy="878.6" r="11.6"/>
<circle cx="1390.1" cy="919.2" r="11.6"/>
<circle cx="1406.7" cy="967.4" r="11.6"/>
<circle cx="1428.1" cy="1004.6" r="11.6"/>
<circle cx="1461.1" cy="1059.3" r="11.6"/>
<circle cx="1563.6" cy="752.5" r="11.6"/>
</g>
<path d="M356.65 1159.70v-17.3M356.65 23.80v17.3M554.50 1159.70v-17.3M554.50 23.80v17.3M752.35 1159.70v-17.3M752.35 23.80v17.3M950.20 1159.70v-17.3M950.20 23.80v17.3M1148.05 1159.70v-17.3M1148.05 23.80v17.3M1345.90 1159.70v-17.3M1345.90 23.80v17.3M1543.75 1159.70v-17.3M1543.75 23.80v17.3M158.80 1056.44h17.3M1741.60 1056.44h-17.3M158.80 953.17h17.3M1741.60 953.17h-17.3M158.80 849.91h17.3M1741.60 849.91h-17.3M158.80 746.65h17.3M1741.60 746.65h-17.3M158.80 643.38h17.3M1741.60 643.38h-17.3M158.80 540.12h17.3M1741.60 540.12h-17.3M158.80 436.85h17.3M1741.60 436.85h-17.3M158.80 333.59h17.3M1741.60 333.59h-17.3M158.80 230.33h17.3M1741.60 230.33h-17.3M158.80 127.06h17.3M1741.60 127.06h-17.3" stroke="#262626" stroke-width="3.1" fill="none"/>
<rect x="158.8" y="23.8" width="1582.80" height="1135.90" fill="none" stroke="#262626" stroke-width="3.0"/>
<g font-family="Liberation Sans, Arial, sans-serif" font-size="38.3" fill="#262626" stroke="#262626" stroke-width="1.0">
<text x="157.8" y="1214.1" text-anchor="middle">0</text>
<text x="355.6" y="1214.1" text-anchor="middle">5</text>
<text x="553.5" y="1214.1" text-anchor="middle">10</text>
<text x="751.3" y="1214.1" text-anchor="middle">15</text>
<text x="949.2" y="1214.1" text-anchor="middle">20</text>
<text x="1147.0" y="1214.1" text-anchor="middle">25</text>
<text x="1344.9" y="1214.1" text-anchor="middle">30</text>
<text x="1542.8" y="1214.1" text-anchor="middle">35</text>
<text x="1740.6" y="1214.1" text-anchor="middle">40</text>
<text x="141.4" y="1174.1" text-anchor="end">-0.2</text>
<text x="141.4" y="1070.8" text-anchor="end">0</text>
<text x="141.4" y="967.6" text-anchor="end">0.2</text>
<text x="141.4" y="864.3" text-anchor="end">0.4</text>
<text x="141.4" y="761.0" text-anchor="end">0.6</text>
<text x="141.4" y="657.8" text-anchor="end">0.8</text>
<text x="141.4" y="554.5" text-anchor="end">1</text>
<text x="141.4" y="451.3" text-anchor="end">1.2</text>
<text x="141.4" y="348.0" text-anchor="end">1.4</text>
<text x="141.4" y="244.7" text-anchor="end">1.6</text>
<text x="141.4" y="141.5" text-anchor="end">1.8</text>
</g>
<text font-family="Liberation Sans, Arial, sans-serif" font-size="42.2" fill="#262626" stroke="#262626" stroke-width="1.1" x="949" y="1270" text-anchor="middle">Time (sec.)</text>
<text font-family="Liberation Sans, Arial, sans-serif" font-size="42.2" fill="#262626" stroke="#262626" stroke-width="1.1" transform="translate(52.7 593.5) rotate(-90)" text-anchor="middle">Normalized Specific Forces (Unitless)</text>
<rect x="917.3" y="54.6" width="795" height="153" fill="#fff" stroke="#262626" stroke-width="1.9"/>
<path d="M928 83.1H1044" stroke="#0072BD" stroke-width="2.0"/>
<path d="M928 131H1044" stroke="#D95319" stroke-width="2.0"/>
<circle cx="986" cy="179" r="11.6" fill="none" stroke="#EDB120" stroke-width="3.3"/>
<g font-family="Liberation Sans, Arial, sans-serif" font-size="34.55" fill="#000" stroke="#000" stroke-width="1.1">
<text x="1052" y="96">Smoothed Accelerometer Read-out Signal</text>
<text x="1052" y="144.2">Accelerometer Signal Read-out Trend</text>
<text x="1052" y="192.5">Detected Peaks and Valleys</text>
</g>
</svg>
</body></html>
